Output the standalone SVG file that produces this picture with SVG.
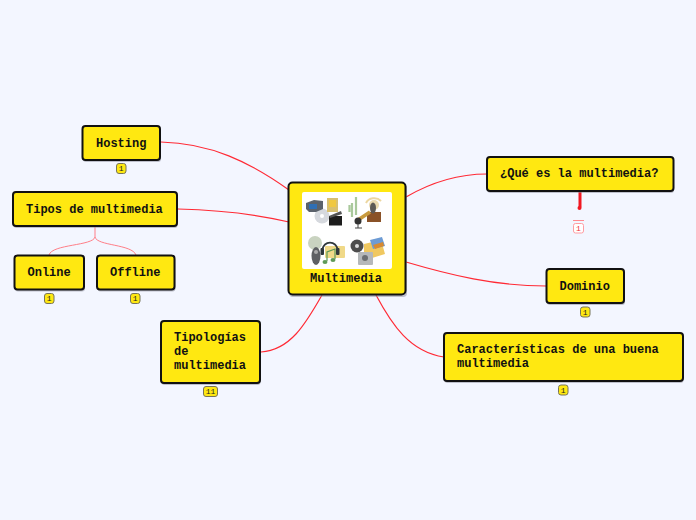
<svg xmlns="http://www.w3.org/2000/svg" width="696" height="520" viewBox="0 0 696 520">
<defs>
<style>
.box{fill:#ffe811;stroke:#111;stroke-width:2}
.shadow{fill:#8a8a9a;opacity:.5}
.t{font-family:"Liberation Mono",monospace;font-size:12px;font-weight:bold;fill:#111}
.c{stroke:#ff2a35;fill:none;stroke-width:1.2}
.thin{stroke:#ff7f88;fill:none;stroke-width:1}
.b{fill:#ffe811;stroke:#77745a;stroke-width:1}
.bt{font-family:"Liberation Mono",monospace;font-size:8px;fill:#222;text-anchor:middle}
</style>
</defs>
<rect width="696" height="520" fill="#f3f6ff"/>
<g id="connectors">
<path class="c" d="M161 142C210 143 250 162 289 190"/>
<path class="c" d="M178 209C220 210 255 214 289 222"/>
<path class="c" d="M261 352C290 350 305 325 322 295"/>
<path class="c" d="M376 295C392 325 410 352 444 357"/>
<path class="c" d="M406 262C450 275 495 286 546 286"/>
<path class="c" d="M406 197C430 183 455 174 487 174"/>
<path class="thin" d="M95 227V237C93 246 52 244 49 255"/>
<path class="thin" d="M95 237C97 246 132 244 136 255"/>
<path d="M580 191.500V207.500" stroke="#f01822" stroke-width="3" fill="none"/>
<circle cx="579.500" cy="208" r="2" fill="#f01822"/>
</g>
<g id="node-multimedia">
<rect class="shadow" x="289" y="184" width="118" height="113" rx="4"/>
<rect class="box" x="288.500" y="182.500" width="117" height="112" rx="4"/>
<rect x="302" y="192" width="90" height="77" rx="2" fill="#fff"/>
<g id="icon-video">
<circle cx="322" cy="216" r="7.500" fill="#d6d9de"/>
<circle cx="322" cy="216" r="2" fill="#fff"/>
<rect x="327" y="198" width="11" height="14" fill="#d8c070"/>
<rect x="329" y="200" width="7" height="7" fill="#f0c840"/>
<path d="M306 203L314 200L323 201V209L316 212H309L306 209Z" fill="#5b626b"/>
<rect x="309" y="204" width="8" height="5" fill="#2f6fb5"/>
<rect x="329" y="216" width="13" height="9.500" fill="#1d1d1d"/>
<path d="M329 216L341 211L342 214L330 218Z" fill="#555"/>
</g>
<g id="icon-audio">
<path d="M352 217V203M356 215V197M349.500 212V205" stroke="#a9c99c" stroke-width="2.200" fill="none"/>
<path d="M366 203A9 8 0 0 1 381 201" stroke="#ecd7a0" stroke-width="2" fill="none"/>
<circle cx="374" cy="205" r="5" fill="#e9d9b0"/>
<rect x="367" y="212" width="14" height="10" fill="#8a5228"/>
<ellipse cx="373" cy="208" rx="3" ry="5.500" fill="#5d5a56"/>
<path d="M370 212L358 220" stroke="#c89a3c" stroke-width="3.500"/>
<circle cx="358" cy="221" r="3.500" fill="#333"/>
<path d="M358 224V228M355 228H362" stroke="#444" stroke-width="1"/>
</g>
<g id="icon-music">
<circle cx="315" cy="243" r="7" fill="#c9d3c0"/>
<rect x="325" y="246" width="20" height="12" rx="1" fill="#f0d988"/>
<path d="M322 250A8.500 11 0 0 1 338 250" stroke="#30383c" stroke-width="1.800" fill="none"/>
<rect x="320.500" y="248" width="3.500" height="7" rx="1" fill="#30383c"/>
<rect x="336" y="248" width="3.500" height="7" rx="1" fill="#30383c"/>
<path d="M327 261V252L335 249V259" stroke="#5f9a58" stroke-width="1.200" fill="none"/>
<ellipse cx="325" cy="262" rx="2.500" ry="2" fill="#5f9a58"/>
<ellipse cx="333" cy="260" rx="2.500" ry="2" fill="#5f9a58"/>
<ellipse cx="316" cy="256" rx="4.500" ry="9" fill="#5e6063"/>
<circle cx="316" cy="252" r="2" fill="#aaa"/>
</g>
<g id="icon-photo">
<path d="M364 244L381 240L385 254L372 258H364Z" fill="#f0c860"/>
<path d="M370 240L382 237L385 246L373 249Z" fill="#6d9bd4"/>
<path d="M373 245L383 242L384 246L375 249Z" fill="#d88a30"/>
<circle cx="357" cy="246" r="6.500" fill="#4d4d4d"/>
<circle cx="357" cy="246" r="2" fill="#ddd"/>
<rect x="358" y="252" width="15" height="13" rx="1" fill="#b5b8ba"/>
<circle cx="365" cy="258" r="3" fill="#6c6f72"/>
</g>
<text class="t" x="310" y="282">Multimedia</text>
</g>
<g id="node-hosting">
<rect class="shadow" x="83" y="128" width="78" height="34" rx="3"/>
<rect class="box" x="82.500" y="126" width="77.500" height="34" rx="3"/>
<text class="t" x="96" y="146.500">Hosting</text>
<rect class="b" x="116.500" y="163.500" width="9.500" height="10" rx="2.500"/>
<text class="bt" x="121.200" y="171">1</text>
</g>
<g id="node-tipos">
<rect class="shadow" x="13.500" y="194" width="164" height="34" rx="3"/>
<rect class="box" x="13" y="192" width="164" height="34" rx="3"/>
<text class="t" x="26" y="212.500">Tipos de multimedia</text>
</g>
<g id="node-online">
<rect class="shadow" x="15" y="257.500" width="70" height="34" rx="3"/>
<rect class="box" x="14.500" y="255.500" width="69.500" height="34" rx="3"/>
<text class="t" x="27.500" y="276">Online</text>
<rect class="b" x="44.500" y="293.500" width="9.500" height="10" rx="2.500"/>
<text class="bt" x="49.200" y="301">1</text>
</g>
<g id="node-offline">
<rect class="shadow" x="97.500" y="257.500" width="78" height="34" rx="3"/>
<rect class="box" x="97" y="255.500" width="77.500" height="34" rx="3"/>
<text class="t" x="110" y="276">Offline</text>
<rect class="b" x="130.500" y="293.500" width="9.500" height="10" rx="2.500"/>
<text class="bt" x="135.200" y="301">1</text>
</g>
<g id="node-tipologias">
<rect class="shadow" x="161.500" y="323" width="99" height="62" rx="3"/>
<rect class="box" x="161" y="321" width="99" height="62" rx="3"/>
<text class="t" x="174" y="341">Tipologías</text>
<text class="t" x="174" y="355">de</text>
<text class="t" x="174" y="369">multimedia</text>
<rect class="b" x="203.500" y="386.500" width="14" height="10" rx="2.500"/>
<text class="bt" x="210.500" y="394">11</text>
</g>
<g id="node-que">
<rect class="shadow" x="487.500" y="159" width="186.500" height="34" rx="3"/>
<rect class="box" x="487" y="157" width="186.500" height="34" rx="3"/>
<text class="t" x="500" y="177">¿Qué es la multimedia?</text>
<path d="M573 220.500H584" stroke="#ff8a90" fill="none"/>
<rect x="573.500" y="223.500" width="10" height="9.500" rx="2" fill="#fff" stroke="#ff9da3"/>
<text class="bt" x="578.500" y="231" style="fill:#f03040">1</text>
</g>
<g id="node-dominio">
<rect class="shadow" x="547" y="271" width="78" height="34" rx="3"/>
<rect class="box" x="546.500" y="269" width="77.500" height="34" rx="3"/>
<text class="t" x="559.500" y="290">Dominio</text>
<rect class="b" x="580.500" y="307" width="9.500" height="10" rx="2.500"/>
<text class="bt" x="585.200" y="314.500">1</text>
</g>
<g id="node-caracteristicas">
<rect class="shadow" x="444.500" y="335" width="239" height="48" rx="3"/>
<rect class="box" x="444" y="333" width="239" height="48" rx="3"/>
<text class="t" x="457" y="353">Características de una buena</text>
<text class="t" x="457" y="367">multimedia</text>
<rect class="b" x="558.500" y="385" width="9.500" height="10" rx="2.500"/>
<text class="bt" x="563.200" y="392.500">1</text>
</g>
</svg>
